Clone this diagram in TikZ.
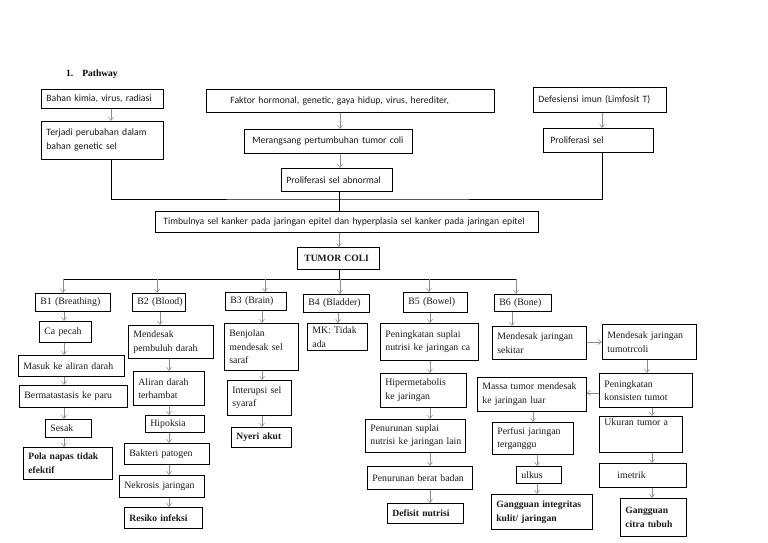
\documentclass[tikz,border=0pt]{standalone}
\usepackage{fontspec}
\setmainfont{Liberation Serif}
\newfontfamily\carlito{Carlito}
\usetikzlibrary{arrows.meta}
\tikzset{
  box/.style={draw=black, line width=0.8pt, inner xsep=5pt, inner ysep=2pt, align=left, text=black!90},
  sansbox/.style={font=\carlito\fontsize{9.7}{14}\selectfont},
  serbox/.style={font=\fontsize{9.8}{13.5}\selectfont},
  boldbox/.style={font=\bfseries\fontsize{9.6}{14}\selectfont},
  garr/.style={draw=black!45, line width=0.5pt, -{Straight Barb[length=3.5pt,width=5pt]}},
  trunk/.style={draw=black, line width=1pt},
}
\newcommand\bx[7]{%
  \pgfmathsetlengthmacro\bxw{(#4-#2)*1pt-10pt}%
  \node[box,#7,anchor=north west,minimum width={(#4-#2)*1pt},minimum height={(#5-#3)*1pt},text width=\bxw] (#1) at (#2,#3) {#6};}
\begin{document}
\begin{tikzpicture}[x=1pt,y=-1pt]
\fill[white] (0,0) rectangle (768,543);
\useasboundingbox (0,0) rectangle (768,543);

\node[font=\bfseries\fontsize{9.5}{11}\selectfont, anchor=base west, inner sep=0pt] (title) at (66,76) {1.\hspace{9pt}Pathway};

% top part
\bx{bahan}{41}{89}{163}{108}{\mbox{Bahan kimia, virus, radiasi}}{sansbox}
\bx{terjadi}{41}{121}{163}{159}{\mbox{Terjadi perubahan dalam}\\ bahan genetic sel}{sansbox}
\bx{faktor}{206}{89}{494}{112}{\mbox{\hspace*{19pt}Faktor hormonal, genetic, gaya hidup, virus, herediter,}}{sansbox}
\bx{merangsang}{244}{129}{412}{153}{\mbox{\hspace*{3pt}Merangsang pertumbuhan tumor coli}}{sansbox}
\bx{prolab}{281}{168}{392}{191}{\mbox{Proliferasi sel abnormal}}{sansbox}
\bx{defes}{533}{87}{666}{112}{\mbox{Defesiensi imun (Limfosit T)}}{sansbox}
\bx{prolsel}{543}{128}{653}{152}{\hspace*{2pt}Proliferasi sel}{sansbox}
\bx{timbul}{155}{211}{538}{232}{\mbox{\hspace*{3pt}Timbulnya sel kanker pada jaringan epitel dan hyperplasia sel kanker pada jaringan epitel}}{sansbox}

\bx{tumor}{297}{247}{379}{269}{\hspace*{2pt}TUMOR COLI}{boldbox}

% B boxes
\bx{B1}{35}{293}{110}{311}{\mbox{B1 (Breathing)}}{serbox}
\bx{B2}{132}{293}{185}{311}{\mbox{B2 (Blood)}}{serbox}
\bx{B3}{225}{292}{286}{310}{\mbox{B3 (Brain)}}{serbox}
\bx{B4}{303}{294}{369}{312}{\mbox{B4 (Bladder)}}{serbox}
\bx{B5}{403}{292}{467}{312}{\mbox{B5 (Bowel)}}{serbox}
\bx{B6}{494}{294}{551}{311}{\mbox{B6 (Bone)}}{serbox}

% B1 column
\bx{capecah}{39}{321}{91}{342}{Ca pecah}{serbox}
\bx{masuk}{18}{355}{124}{376}{\mbox{Masuk ke aliran darah}}{serbox}
\bx{berm}{19}{385}{127}{407}{\mbox{Bermatastasis ke paru}}{serbox}
\bx{sesak}{45}{419}{91}{437}{Sesak}{serbox}
\bx{pola}{23}{447}{112}{479}{\mbox{Pola napas tidak}\\ efektif}{boldbox}

% B2 column
\bx{mendesakpd}{128}{325}{213}{358}{Mendesak\\ \mbox{pembuluh darah}}{serbox}
\bx{aliran}{133}{371}{204}{405}{\mbox{Aliran darah}\\ terhambat}{serbox}
\bx{hipoksia}{145}{415}{204}{432}{Hipoksia}{serbox}
\bx{bakteri}{124}{443}{209}{464}{\mbox{Bakteri patogen}}{serbox}
\bx{nekrosis}{119}{475}{204}{497}{\mbox{Nekrosis jaringan}}{serbox}
\bx{resiko}{124}{507}{202}{528}{\mbox{Resiko infeksi}}{boldbox}

% B3 column
\bx{benjolan}{224}{323}{298}{370}{Benjolan\\ \mbox{mendesak sel}\\ saraf}{serbox}
\bx{interupsi}{227}{380}{291}{415}{\mbox{Interupsi sel}\\ syaraf}{serbox}
\bx{nyeri}{231}{427}{291}{447}{\mbox{Nyeri akut}}{boldbox}

% B4 column
\bx{mk}{307}{323}{367}{350}{\mbox{MK: Tidak}\\ ada}{serbox}

% B5 column
\bx{peningsup}{380}{323}{478}{360}{\mbox{Peningkatan suplai}\\ \mbox{nutrisi ke jaringan ca}}{serbox}
\bx{hiper}{380}{373}{466}{407}{Hipermetabolis\\ \mbox{ke jaringan}}{serbox}
\bx{penursup}{365}{419}{465}{452}{\mbox{Penurunan suplai}\\ \mbox{nutrisi ke jaringan lain}}{serbox}
\bx{penurbb}{367}{466}{472}{489}{\mbox{Penurunan berat badan}}{serbox}
\bx{defisit}{387}{503}{463}{523}{\mbox{Defisit nutrisi}}{boldbox}

% B6 column
\bx{sekitar}{492}{326}{586}{359}{\mbox{Mendesak jaringan}\\ sekitar}{serbox}
\bx{tumotr}{602}{324}{696}{359}{\mbox{Mendesak jaringan}\\ tumotrcoli}{serbox}
\bx{konsisten}{599}{373}{692}{407}{Peningkatan\\ \mbox{konsisten tumot}}{serbox}
\bx{massa}{477}{377}{586}{411}{\mbox{Massa tumor mendesak}\\ \mbox{ke jaringan luar}}{serbox}
\bx{perfusi}{492}{422}{573}{454}{\mbox{Perfusi jaringan}\\ terganggu}{serbox}
\bx{ulkus}{516}{466}{561}{483}{ulkus}{serbox}
\bx{gint}{491}{494}{592}{529}{\mbox{Gangguan integritas}\\ \mbox{kulit/ jaringan}}{boldbox}
\bx{ukuran}{599}{416}{682}{450}{\mbox{Ukuran tumor a}\\[12pt]\mbox{}}{serbox}
\bx{imetrik}{599}{463}{686}{487}{\hspace*{13pt}imetrik}{serbox}
\bx{gcitra}{620}{498}{686}{536}{Gangguan\\ \mbox{citra tubuh}}{boldbox}

% helper coordinates
\coordinate (xa) at (111,0);
\coordinate (xm) at (340,0);
\coordinate (xr) at (602,0);
\coordinate (xt) at (339,0);
\coordinate (jn) at (339,199);
\coordinate (hj) at (339,279);
\coordinate (h1) at (63,279);
\coordinate (h2) at (157,279);
\coordinate (h3) at (265,279);
\coordinate (h4) at (340,279);
\coordinate (h5) at (429,279);
\coordinate (h6) at (516,279);
\coordinate (c1) at (64,0);
\coordinate (c2a) at (160,0);
\coordinate (c2) at (169,0);
\coordinate (c3) at (262,0);
\coordinate (c4) at (338,0);
\coordinate (c5) at (430,0);
\coordinate (c6a) at (512,0);
\coordinate (c6b) at (647,0);
\coordinate (c6c) at (533,0);
\coordinate (c6d) at (537,0);
\coordinate (c6e) at (652,0);
\coordinate (y342) at (0,342);
\coordinate (y393) at (0,393);

% top connectors
\draw[garr] (bahan.south -| xa) -- (terjadi.north -| xa);
\draw[garr] (faktor.south -| xm) -- (merangsang.north -| xm);
\draw[garr] (merangsang.south -| xm) -- (prolab.north -| xm);
\draw[garr] (defes.south -| xr) -- (prolsel.north -| xr);
\draw[trunk] (terjadi.south -| xa) |- (jn) -| (prolsel.south -| xr);
\draw[trunk] (prolab.south -| xt) -- (timbul.north -| xt);
\draw[garr] (timbul.south -| xt) -- (tumor.north -| xt);
\draw[trunk] (tumor.south -| xt) -- (hj);
\draw[trunk] (h1) -- (h6);
\draw[garr] (h1) -- (B1.north -| h1);
\draw[garr] (h2) -- (B2.north -| h2);
\draw[garr] (h3) -- (B3.north -| h3);
\draw[garr] (h4) -- (B4.north -| h4);
\draw[garr] (h5) -- (B5.north -| h5);
\draw[garr] (h6) -- (B6.north -| h6);

% B1
\draw[garr] (B1.south -| c1) -- (capecah.north -| c1);
\draw[garr] (capecah.south -| c1) -- (masuk.north -| c1);
\draw[garr] (masuk.south -| c1) -- (berm.north -| c1);
\draw[garr] (berm.south -| c1) -- (sesak.north -| c1);
\draw[garr] (sesak.south -| c1) -- (pola.north -| c1);
% B2
\draw[garr] (B2.south -| c2a) -- (mendesakpd.north -| c2a);
\draw[garr] (mendesakpd.south -| c2) -- (aliran.north -| c2);
\draw[garr] (aliran.south -| c2) -- (hipoksia.north -| c2);
\draw[garr] (hipoksia.south -| c2) -- (bakteri.north -| c2);
\draw[garr] (bakteri.south -| c2) -- (nekrosis.north -| c2);
\draw[garr] (nekrosis.south -| c2) -- (resiko.north -| c2);
% B3
\draw[garr] (B3.south -| c3) -- (benjolan.north -| c3);
\draw[garr] (benjolan.south -| c3) -- (interupsi.north -| c3);
\draw[garr] (interupsi.south -| c3) -- (nyeri.north -| c3);
% B4
\draw[garr] (B4.south -| c4) -- (mk.north -| c4);
% B5
\draw[garr] (B5.south -| c5) -- (peningsup.north -| c5);
\draw[garr] (peningsup.south -| c5) -- (hiper.north -| c5);
\draw[garr] (hiper.south -| c5) -- (penursup.north -| c5);
\draw[garr] (penursup.south -| c5) -- (penurbb.north -| c5);
\draw[garr] (penurbb.south -| c5) -- (defisit.north -| c5);
% B6
\draw[garr] (B6.south -| c6a) -- (sekitar.north -| c6a);
\draw[garr] (sekitar.east |- y342) -- (tumotr.west |- y342);
\draw[garr] (tumotr.south -| c6b) -- (konsisten.north -| c6b);
\draw[garr] (konsisten.west |- y393) -- (massa.east |- y393);
\draw[garr] (massa.south -| c6c) -- (perfusi.north -| c6c);
\draw[garr] (perfusi.south -| c6d) -- (ulkus.north -| c6d);
\draw[garr] (ulkus.south -| c6d) -- (gint.north -| c6d);
\draw[garr] (konsisten.south -| c6e) -- (ukuran.north -| c6e);
\draw[garr] (ukuran.south -| c6e) -- (imetrik.north -| c6e);
\draw[garr] (imetrik.south -| c6e) -- (gcitra.north -| c6e);
\end{tikzpicture}
\end{document}
